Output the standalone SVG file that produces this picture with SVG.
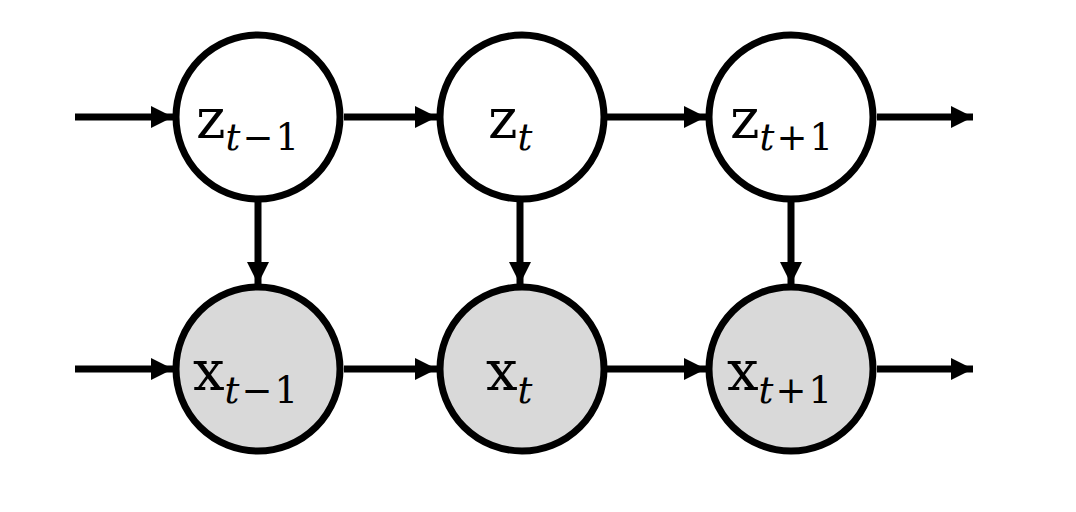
<svg xmlns="http://www.w3.org/2000/svg" width="1076" height="512" viewBox="0 0 1076 512">
<style>
.n{stroke:#000;stroke-width:7}
.z{fill:#fff}
.x{fill:#d9d9d9}
.e{stroke:#000;stroke-width:7;fill:none;marker-end:url(#ah)}
text{font-family:"DejaVu Serif","Liberation Serif",serif;fill:#000}
.m{font-size:56px}
.s{font-size:37px;letter-spacing:2px}
.i{font-style:italic}
</style>
<defs>
<marker id="ah" markerUnits="userSpaceOnUse" markerWidth="24" markerHeight="24" refX="22" refY="11" orient="auto">
<path d="M0,0 L22,11 L0,22 Z" fill="#000"/>
</marker>
</defs>
<rect width="1076" height="512" fill="#fff"/>
<g id="connectors">
<line class="e" x1="75" y1="117" x2="173" y2="117"/>
<line class="e" x1="344" y1="117" x2="437" y2="117"/>
<line class="e" x1="607" y1="117" x2="706" y2="117"/>
<line class="e" x1="877" y1="117" x2="973" y2="117"/>
<line class="e" x1="75" y1="369" x2="173" y2="369"/>
<line class="e" x1="344" y1="369" x2="437" y2="369"/>
<line class="e" x1="607" y1="369" x2="706" y2="369"/>
<line class="e" x1="877" y1="369" x2="973" y2="369"/>
<line class="e" x1="258" y1="202" x2="258" y2="284"/>
<line class="e" x1="520" y1="202" x2="520" y2="284"/>
<line class="e" x1="791" y1="202" x2="791" y2="284"/>
</g>
<g id="z1"><circle class="n z" cx="258" cy="117" r="82"/><text x="196" y="138"><tspan class="m">z</tspan><tspan class="s" dy="12"><tspan class="i">t</tspan>−1</tspan></text></g>
<g id="z2"><circle class="n z" cx="522" cy="117" r="82"/><text x="488" y="138"><tspan class="m">z</tspan><tspan class="s i" dy="12">t</tspan></text></g>
<g id="z3"><circle class="n z" cx="791" cy="117" r="82"/><text x="730" y="138"><tspan class="m">z</tspan><tspan class="s" dy="12"><tspan class="i">t</tspan>+1</tspan></text></g>
<g id="x1"><circle class="n x" cx="258" cy="369" r="82"/><text x="193" y="390"><tspan class="m">x</tspan><tspan class="s" dy="13"><tspan class="i">t</tspan>−1</tspan></text></g>
<g id="x2"><circle class="n x" cx="522" cy="369" r="82"/><text x="486" y="390"><tspan class="m">x</tspan><tspan class="s i" dy="13">t</tspan></text></g>
<g id="x3"><circle class="n x" cx="791" cy="369" r="82"/><text x="727" y="390"><tspan class="m">x</tspan><tspan class="s" dy="13"><tspan class="i">t</tspan>+1</tspan></text></g>
</svg>
